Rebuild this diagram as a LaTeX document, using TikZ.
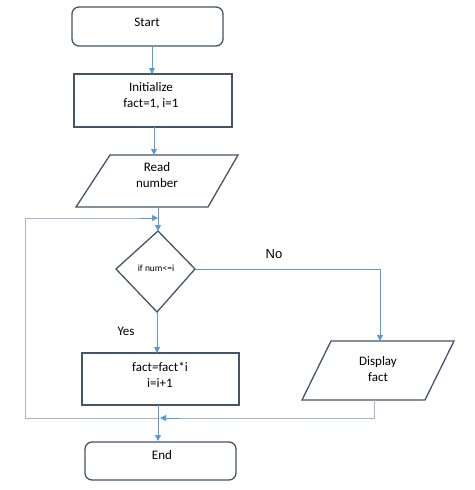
\documentclass[tikz,border=0pt]{standalone}
\usepackage{fontspec}
\setmainfont{Carlito}
\newfontfamily\arialfont{Liberation Sans}
\usetikzlibrary{arrows.meta}
\definecolor{boxline}{HTML}{44546A}
\definecolor{arrowblue}{HTML}{5B9BD5}
\definecolor{loopblue}{HTML}{A3B6CC}
\tikzset{
  x=1pt, y=-1pt,
  shapeline/.style={draw=boxline, line width=1.3pt},
  roundbox/.style={shapeline, rounded corners=7pt},
  conn/.style={draw=arrowblue, line width=0.8pt, -{Triangle[length=6pt,width=6pt]}},
  loopline/.style={draw=loopblue, line width=1pt},
  txt/.style={font=\fontsize{13}{16}\selectfont, align=center, inner sep=0pt},
  smalltxt/.style={font=\fontsize{9.5}{11}\selectfont, inner sep=0pt},
}
\begin{document}
\begin{tikzpicture}
\useasboundingbox (0,0) rectangle (474,490);
% shapes
\draw[roundbox] (72,7) rectangle (223,46);
\draw[shapeline] (74,74) rectangle (232,127);
\draw[shapeline] (110,155) -- (238,155) -- (208,207) -- (76,207) -- cycle;
\draw[shapeline] (158,231) -- (195,269) -- (157,312) -- (116,269) -- cycle;
\draw[shapeline] (82,353) rectangle (239,405);
\draw[shapeline] (331,341) -- (454,341) -- (425,400) -- (302,400) -- cycle;
\draw[roundbox] (85,442) rectangle (236,480);
% texts
\node[txt] (start) at (147,22) {Start};
\node[txt] (init) at (151,96) {Initialize\\fact=1, i=1};
\node[txt] (read) at (157,175) {Read\\number};
\node[smalltxt] (cond) at (156,268) {if num<=i};
\node[txt] (body) at (160,375) {fact=fact*i\\i=i+1};
\node[txt] (disp) at (378,369) {Display\\fact};
\node[txt] (finish) at (162,455) {End};
\node[font=\arialfont\fontsize{13}{15}\selectfont, inner sep=0pt] (nolab) at (274,254) {No};
\node[txt] (yeslab) at (126,331) {Yes};
% coordinates
\coordinate (startb) at (152,46);
\coordinate (initt) at (152,74);
\coordinate (initb) at (154,127);
\coordinate (readt) at (154,155);
\coordinate (readb) at (158,207);
\coordinate (condt) at (158,231);
\coordinate (condr) at (195,269);
\coordinate (condb) at (157,312);
\coordinate (bodyt) at (157,353);
\coordinate (bodyb) at (158,405);
\coordinate (finisht) at (158,441);
\coordinate (dispt) at (380,341);
\coordinate (dispb) at (374,400);
\coordinate (joinb) at (158,418);
\coordinate (loopin) at (158,218);
% connectors
\draw[conn] (startb) -- (initt);
\draw[conn] (initb) -- (readt);
\draw[loopline] (joinb) -- (25,418) -- (25,218) -- (150,218);
\draw[conn] (140,218) -- (loopin);
\draw[conn] (readb) -- (condt);
\draw[conn] (condr) -- (380,269) -- (dispt);
\draw[conn] (condb) -- (bodyt);
\draw[conn] (bodyb) -- (finisht);
\draw[loopline] (dispb) -- (374,418) -- (180,418);
\draw[conn] (180,418) -- (160,418);
\end{tikzpicture}
\end{document}
